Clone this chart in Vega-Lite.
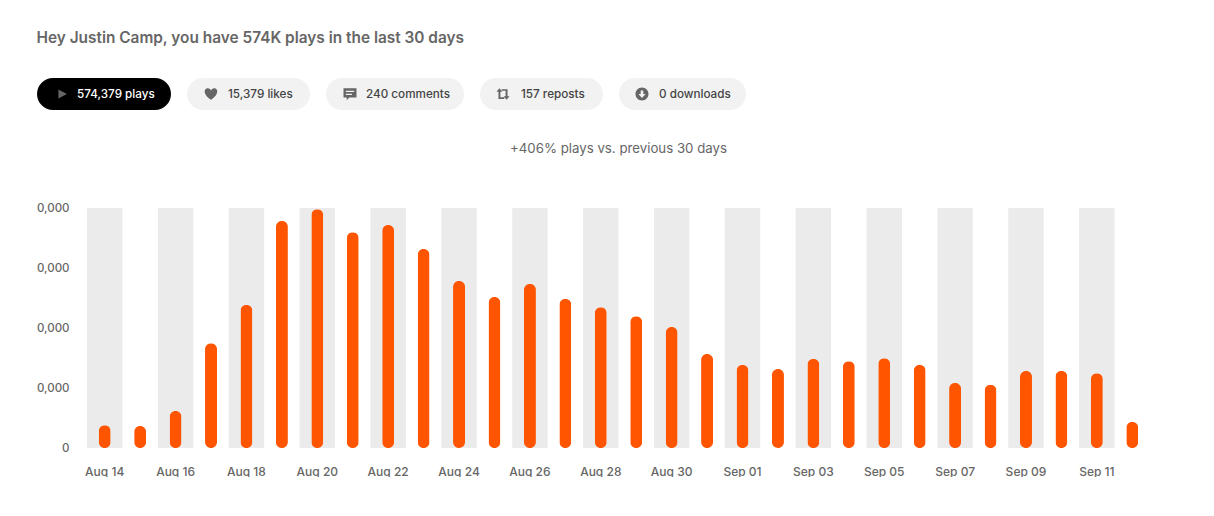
{
 "$schema":"https://vega.github.io/schema/vega-lite/v6.json",
 "padding":{"left":36,"top":30,"right":0,"bottom":0},
 "background":"#ffffff",
 "title":{"text":"Hey Justin Camp, you have 574K plays in the last 30 days","anchor":"start","font":"Inter","fontSize":15.4,"fontWeight":600,"color":"#666666","offset":32,"frame":"bounds"},
 "config":{"view":{"stroke":null},"concat":{"spacing":31}},
 "vconcat":[
  {
   "width":1063,"height":32,
   "data":{"values":[
    {"pill":0,"metric":"plays","label":"574,379 plays"},
    {"pill":1,"metric":"likes","label":"15,379 likes"},
    {"pill":2,"metric":"comments","label":"240 comments"},
    {"pill":3,"metric":"reposts","label":"157 reposts"},
    {"pill":4,"metric":"downloads","label":"0 downloads"}]},
   "layer":[
    {"mark":{"type":"bar","cornerRadius":16,"orient":"vertical"},
     "encoding":{
      "x":{"field":"pill","type":"quantitative","axis":null,"scale":{"domain":[0,1,2,3,4],"padding":0,"range":[17,161.5,308,454.5,595.5]}},
      "y":{"datum":0,"type":"quantitative","axis":null,"scale":{"domain":[0,1],"nice":false}},
      "y2":{"datum":1},
      "size":{"field":"pill","type":"quantitative","legend":null,"scale":{"domain":[0,1,2,3,4],"range":[134,123,138,123,127]}},
      "color":{"field":"metric","type":"nominal","legend":null,"scale":{"domain":["plays","likes","comments","reposts","downloads"],"range":["#000000","#f2f2f2","#f2f2f2","#f2f2f2","#f2f2f2"]}}
     }},
    {"mark":{"type":"point","filled":true,"opacity":1,"size":169},
     "encoding":{
      "x":{"field":"pill","type":"quantitative","axis":null,"scale":{"domain":[0,1,2,3,4],"range":[-25,124,263,416,555]}},
      "y":{"datum":0.5,"type":"quantitative","axis":null,"scale":{"domain":[0,1],"nice":false}},
      "shape":{"field":"metric","type":"nominal","legend":null,"scale":{"domain":["plays","likes","comments","reposts","downloads"],"range":[
        "M-0.55,-0.7 L0.75,0 L-0.55,0.7 Z",
        "M0,0.9 C-1.4,-0.1 -1,-0.9 -0.5,-0.9 C-0.2,-0.9 0,-0.65 0,-0.5 C0,-0.65 0.2,-0.9 0.5,-0.9 C1,-0.9 1.4,-0.1 0,0.9 Z",
        "M-1,-0.9 L1,-0.9 L1,0.55 L-0.1,0.55 L-0.5,0.95 L-0.5,0.55 L-1,0.55 Z M-0.65,-0.5 L-0.65,-0.3 L0.65,-0.3 L0.65,-0.5 Z M-0.65,-0.05 L-0.65,0.15 L0.3,0.15 L0.3,-0.05 Z",
        "M-0.55,-0.9 L-1,-0.35 L-0.7,-0.35 L-0.7,0.75 L0.2,0.75 L0.2,0.5 L-0.4,0.5 L-0.4,-0.35 L-0.1,-0.35 Z M0.55,0.9 L1,0.35 L0.7,0.35 L0.7,-0.75 L-0.2,-0.75 L-0.2,-0.5 L0.4,-0.5 L0.4,0.35 L0.1,0.35 Z",
        "M-1,0 A1,1 0 1 1 1,0 A1,1 0 1 1 -1,0 Z M0,0.6 L0.55,0 L0.2,0 L0.2,-0.55 L-0.2,-0.55 L-0.2,0 L-0.55,0 Z"]}},
      "color":{"value":"#666666"}
     }},
    {"mark":{"type":"text","align":"left","baseline":"middle","font":"Inter","fontSize":11.7,"fontWeight":500},
     "encoding":{
      "x":{"field":"pill","type":"quantitative","axis":null,"scale":{"domain":[0,1,2,3,4],"range":[-10,141,279,434,572]}},
      "y":{"datum":0.5,"type":"quantitative","axis":null,"scale":{"domain":[0,1],"nice":false}},
      "text":{"field":"label"},
      "color":{"field":"metric","type":"nominal","legend":null,"scale":{"domain":["plays","likes","comments","reposts","downloads"],"range":["#ffffff","#444444","#444444","#444444","#444444"]}}
     }}
   ],
   "resolve":{"scale":{"x":"independent","color":"independent"}}
  },
  {
   "width":1063,"height":240,
   "title":{"text":"+406% plays vs. previous 30 days","anchor":"middle","font":"Inter","fontSize":13.25,"fontWeight":400,"color":"#666666","offset":46},
   "data":{"values":[
    {"date":"Aug 14","plays":3800,"stripe":40000},{"date":"Aug 15","plays":3650,"stripe":0},
    {"date":"Aug 16","plays":6150,"stripe":40000},{"date":"Aug 17","plays":17450,"stripe":0},
    {"date":"Aug 18","plays":23850,"stripe":40000},{"date":"Aug 19","plays":37850,"stripe":0},
    {"date":"Aug 20","plays":39800,"stripe":40000},{"date":"Aug 21","plays":35950,"stripe":0},
    {"date":"Aug 22","plays":37150,"stripe":40000},{"date":"Aug 23","plays":33150,"stripe":0},
    {"date":"Aug 24","plays":27850,"stripe":40000},{"date":"Aug 25","plays":25150,"stripe":0},
    {"date":"Aug 26","plays":27350,"stripe":40000},{"date":"Aug 27","plays":24850,"stripe":0},
    {"date":"Aug 28","plays":23450,"stripe":40000},{"date":"Aug 29","plays":21950,"stripe":0},
    {"date":"Aug 30","plays":20150,"stripe":40000},{"date":"Aug 31","plays":15650,"stripe":0},
    {"date":"Sep 01","plays":13850,"stripe":40000},{"date":"Sep 02","plays":13150,"stripe":0},
    {"date":"Sep 03","plays":14850,"stripe":40000},{"date":"Sep 04","plays":14450,"stripe":0},
    {"date":"Sep 05","plays":14950,"stripe":40000},{"date":"Sep 06","plays":13850,"stripe":0},
    {"date":"Sep 07","plays":10850,"stripe":40000},{"date":"Sep 08","plays":10550,"stripe":0},
    {"date":"Sep 09","plays":12850,"stripe":40000},{"date":"Sep 10","plays":12850,"stripe":0},
    {"date":"Sep 11","plays":12450,"stripe":40000},{"date":"Sep 12","plays":4350,"stripe":0}
   ]},
   "encoding":{
    "x":{"field":"date","type":"nominal","sort":null,"scale":{"paddingInner":0,"paddingOuter":0},
     "axis":{"title":null,"labelAngle":0,"domain":false,"ticks":false,"labelPadding":18,"labelFont":"Inter","labelFontSize":12,"labelFontWeight":500,"labelColor":"#666666",
      "values":["Aug 14","Aug 16","Aug 18","Aug 20","Aug 22","Aug 24","Aug 26","Aug 28","Aug 30","Sep 01","Sep 03","Sep 05","Sep 07","Sep 09","Sep 11"]}}
   },
   "layer":[
    {"mark":{"type":"bar","color":"#ebebeb"},
     "encoding":{"y":{"field":"stripe","type":"quantitative","scale":{"domain":[0,40000],"nice":false},
       "axis":{"title":null,"values":[0,10000,20000,30000,40000],"labelExpr":"datum.value == 0 ? '0' : '0,000'","domain":false,"ticks":false,"grid":false,"labelPadding":18,"minExtent":49,"maxExtent":49,"labelFont":"Inter","labelFontSize":11.5,"labelFontWeight":500,"labelColor":"#666666"}}}},
    {"mark":{"type":"bar","color":"#ff5500","width":12,"cornerRadius":6},
     "encoding":{"y":{"field":"plays","type":"quantitative"}}}
   ]
  }
 ]
}
